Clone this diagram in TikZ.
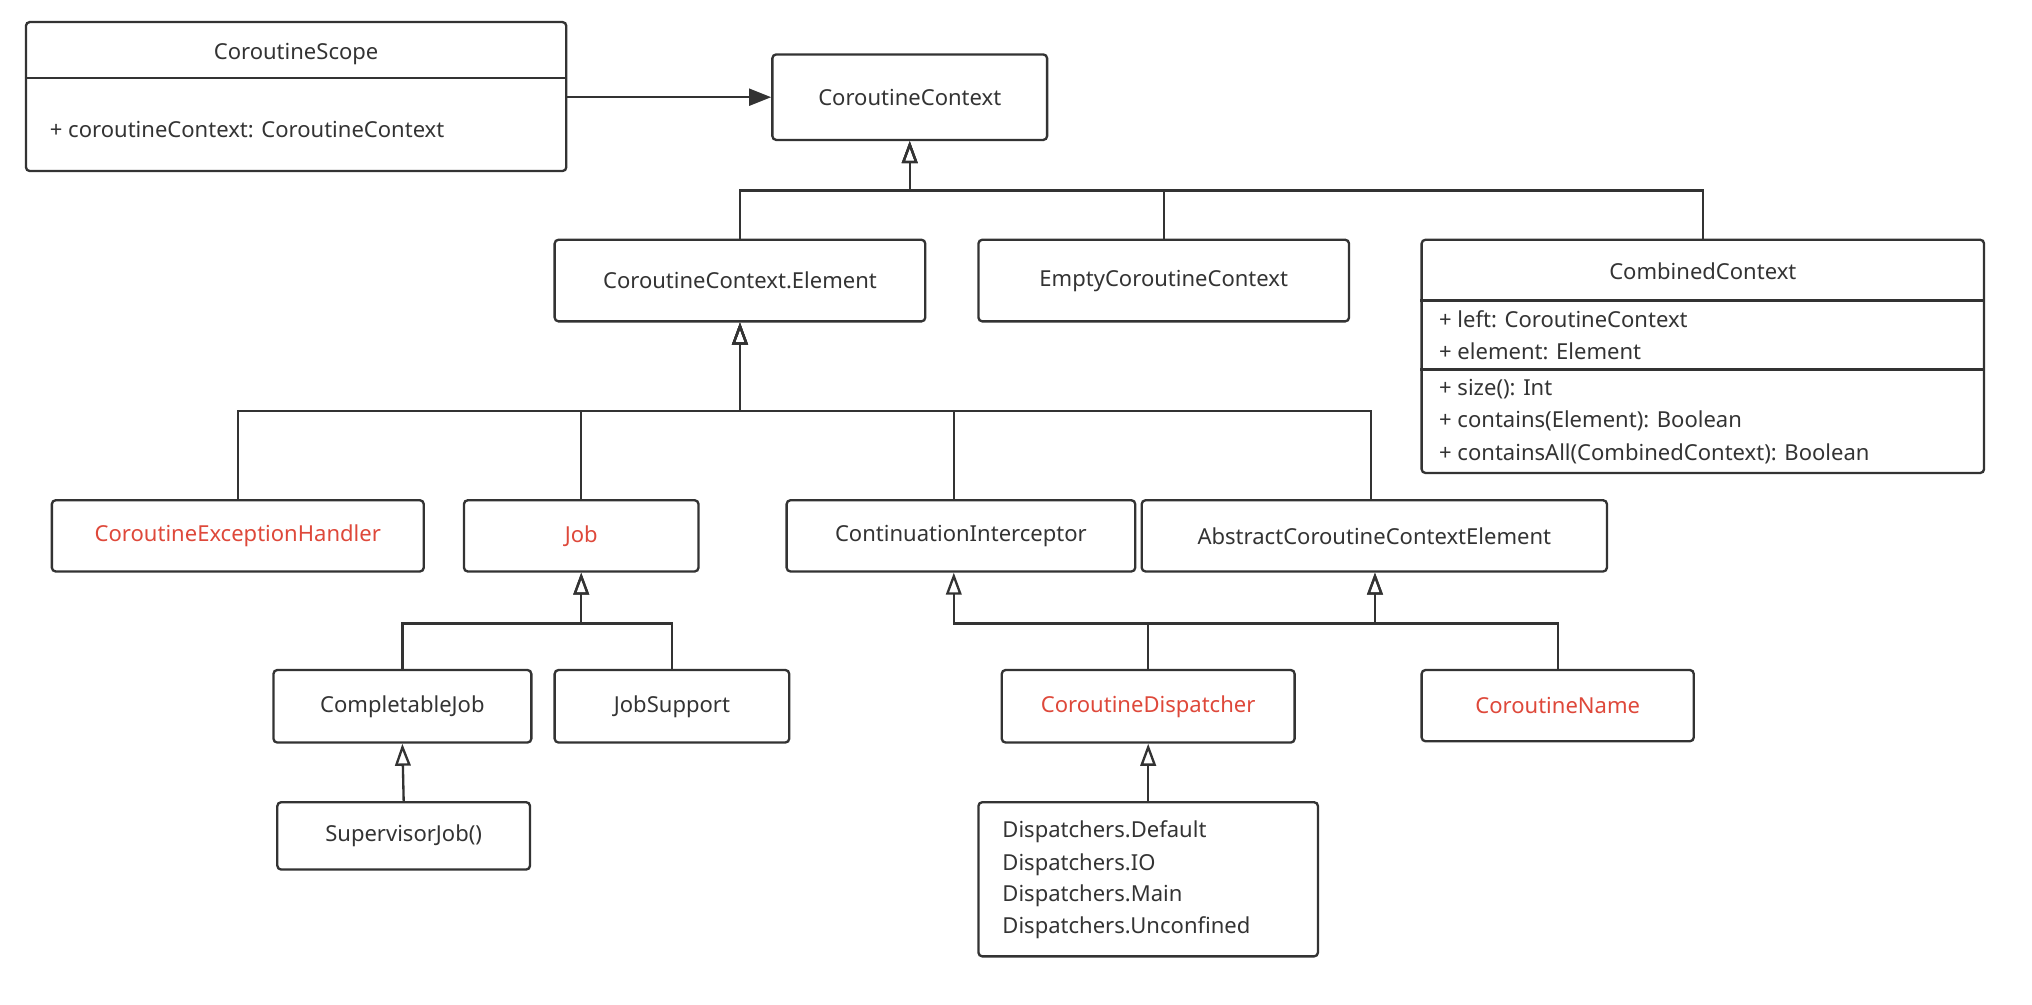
\documentclass[tikz,border=0pt]{standalone}
\usepackage{fontspec}
\setmainfont{Noto Sans}
\usetikzlibrary{arrows.meta}
\definecolor{umlgrey}{RGB}{51, 51, 51}
\definecolor{umlred}{RGB}{222, 72, 58}
\tikzset{
  box/.style={draw=umlgrey, line width=1.8pt, rounded corners=3pt,
    text=umlgrey, font=\fontsize{17}{22}\selectfont, inner sep=0pt},
  title/.style={font=\fontsize{17}{22}\selectfont\bfseries},
  inh/.style={draw=umlgrey, line width=1.8pt,
    -{Triangle[open, length=17pt, width=12pt]}},
  assoc/.style={draw=umlgrey, line width=1.8pt,
    -{Triangle[length=17pt, width=13pt]}},
  member/.style={anchor=west, text=umlgrey, font=\fontsize{17}{22}\selectfont},
}

\begin{document}
\begin{tikzpicture}[x=1pt, y=-1pt]
  \useasboundingbox (0,0) rectangle (1568,775);

  % Top level
  \node[box, minimum width=417, minimum height=115] (scope) at (228.5,74.5) {};
  \node[title, text=umlgrey] (scopetitle) at (228.5,42) {CoroutineScope};
  \node[member] (scopeattr) at (35,100) {+ coroutineContext: CoroutineContext};
  \draw[umlgrey, line width=1.8pt] (scope.west |- 0,60) -- (scope.east |- 0,60);

  \node[box, title, minimum width=212, minimum height=66] (ctx) at (702,75) {CoroutineContext};
  \draw[assoc] (scope.east |- ctx) -- (ctx.west);

  % Second row
  \node[box, title, minimum width=286, minimum height=63] (elem) at (571,216.5) {CoroutineContext.Element};
  \node[box, title, minimum width=286, minimum height=63] (empty) at (898,216.5) {EmptyCoroutineContext};
  \node[box, minimum width=434, minimum height=180] (combined) at (1314,275) {};
  \node[title, text=umlgrey] (combinedtitle) at (1314,209) {CombinedContext};
  \draw[umlgrey, line width=1.8pt] (combined.west |- 0,232) -- (combined.east |- 0,232);
  \draw[umlgrey, line width=1.8pt] (combined.west |- 0,285) -- (combined.east |- 0,285);
  \node[member] (left) at (1107,246) {+ left: CoroutineContext};
  \node[member] (element) at (1107,271) {+ element: Element};
  \node[member] (size) at (1107,300) {+ size(): Int};
  \node[member] (contains) at (1107,325) {+ contains(Element): Boolean};
  \node[member] (containsall) at (1107,350) {+ containsAll(CombinedContext): Boolean};

  \coordinate (ctxbus) at (702,147);
  \draw[inh] (elem.north) |- (ctxbus) -- (ctx.south);
  \draw[inh] (empty.north) |- (ctxbus) -- (ctx.south);
  \draw[inh] (combined.north) |- (ctxbus) -- (ctx.south);

  % Third row
  \node[box, text=umlred, minimum width=287, minimum height=55] (handler) at (183.5,413.5) {CoroutineExceptionHandler};
  \node[box, title, text=umlred, minimum width=181, minimum height=55] (job) at (448.5,413.5) {Job};
  \node[box, minimum width=269, minimum height=55] (interceptor) at (741.5,413.5) {ContinuationInterceptor};
  \node[box, minimum width=359, minimum height=55] (abstract) at (1060.5,413.5) {AbstractCoroutineContextElement};

  \coordinate (elembus) at (571,317);
  \draw[inh] (handler.north) |- (elembus) -- (elem.south);
  \draw[inh] (job.north) |- (elembus) -- (elem.south);
  \draw[inh] ([xshift=-5.5]interceptor.north) |- (elembus) -- (elem.south);
  \draw[inh] ([xshift=-2.5]abstract.north) |- (elembus) -- (elem.south);

  % Job branch
  \node[box, minimum width=199, minimum height=56] (completable) at (310.5,545) {CompletableJob};
  \node[box, minimum width=181, minimum height=56] (support) at (518.5,545) {JobSupport};
  \node[box, title, minimum width=195, minimum height=52] (supervisor) at (311.5,645) {SupervisorJob()};

  \coordinate (jobbus) at (448.5,481);
  \draw[inh] (completable.north) |- (jobbus) -- (job.south);
  \draw[inh] (support.north) |- (jobbus) -- (job.south);
  \draw[inh] (supervisor.north) -- (completable.south);

  % Dispatcher branch
  \node[box, text=umlred, minimum width=226, minimum height=56] (dispatcher) at (886,545) {CoroutineDispatcher};
  \node[box, text=umlred, minimum width=210, minimum height=55] (name) at (1202,544.5) {CoroutineName};
  \node[box, minimum width=262, minimum height=119] (dispatchers) at (886,678.5) {};
  \node[title, member] (dflt) at (770,642) {Dispatchers.Default};
  \node[title, member] (io) at (770,667) {Dispatchers.IO};
  \node[title, member] (main) at (770,691) {Dispatchers.Main};
  \node[title, member] (unconfined) at (770,716) {Dispatchers.Unconfined};

  \coordinate (dispbus) at (886,481);
  \draw[inh] (dispatcher.north) -- (dispbus) -| ([xshift=-5.5]interceptor.south);
  \draw[inh] (dispatcher.north) -- (dispbus) -| ([xshift=0.5]abstract.south);
  \draw[inh] (name.north) |- (dispbus) -| ([xshift=0.5]abstract.south);
  \draw[inh] (dispatchers.north) -- (dispatcher.south);
\end{tikzpicture}
\end{document}
